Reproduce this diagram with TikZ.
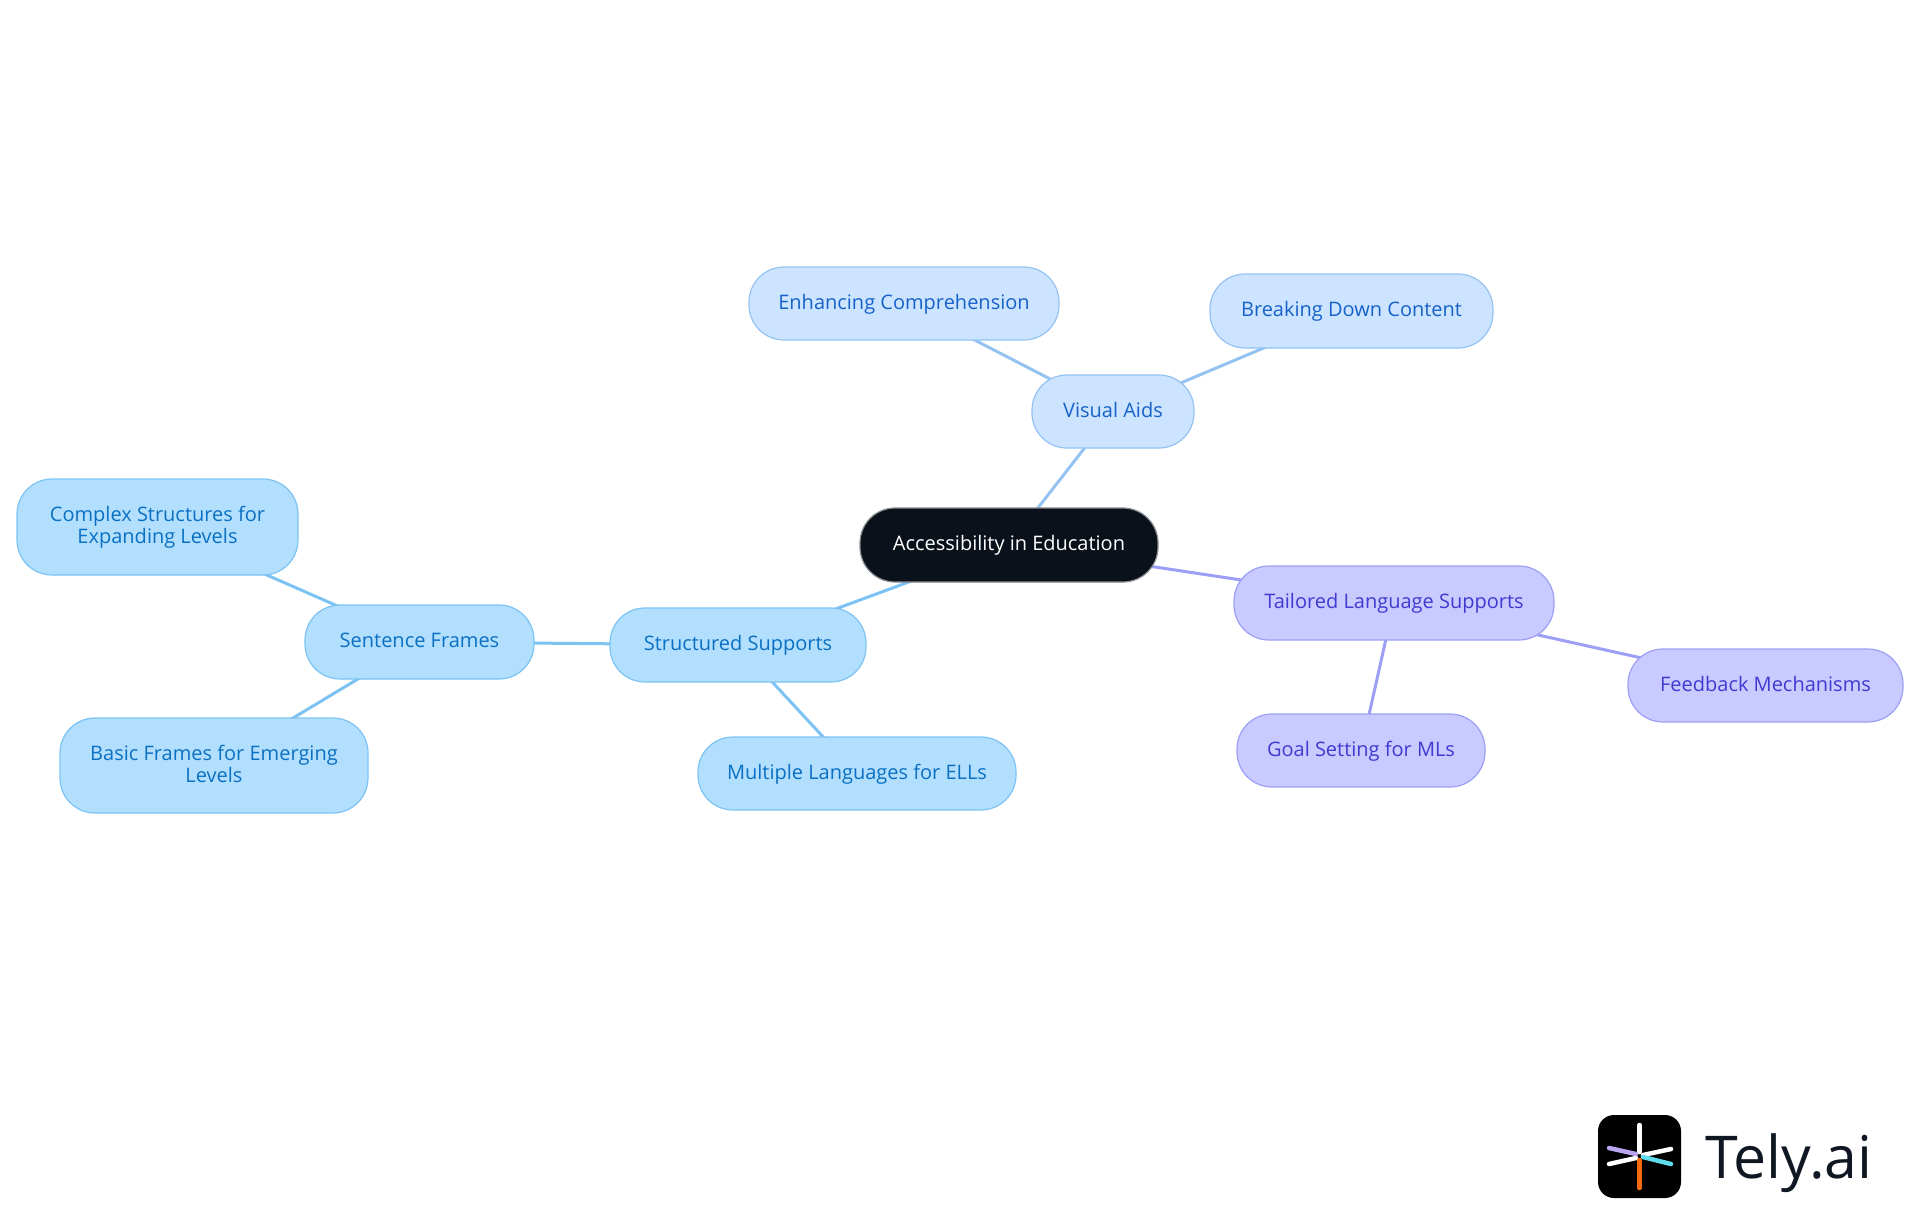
\documentclass[tikz,border=0pt]{standalone}
\usepackage{fontspec}
\setmainfont{Open Sans}
\usetikzlibrary{positioning,backgrounds}
\definecolor{rootfill}{HTML}{0B111A}
\definecolor{rootline}{HTML}{8A8D91}
\definecolor{skyfill}{HTML}{B3DFFF}
\definecolor{skyline}{HTML}{7CC3F3}
\definecolor{skytext}{HTML}{0A70C2}
\definecolor{palefill}{HTML}{CCE4FF}
\definecolor{paleline}{HTML}{94C3F2}
\definecolor{paletext}{HTML}{1762C8}
\definecolor{violetfill}{HTML}{C9CAFF}
\definecolor{violetline}{HTML}{9C9FF5}
\definecolor{violettext}{HTML}{3F3BD0}
\definecolor{brandink}{HTML}{0F1722}
\definecolor{brandorange}{HTML}{F26A0F}
\definecolor{brandlilac}{HTML}{B9A5F0}
\definecolor{brandcyan}{HTML}{5FDDEE}
\begin{document}
\begin{tikzpicture}[
    x=1pt, y=-1pt,
    box/.style={rectangle, draw, rounded corners=35pt, align=center, line width=1.2pt, outer sep=0pt, inner sep=0pt, text height=15.5pt, text depth=4.5pt, font=\fontsize{20}{22}\selectfont},
    twoline/.style={text height=37pt, text depth=3.5pt},
    rootbox/.style={box, fill=rootfill, draw=rootline, text=white},
    skybox/.style={box, fill=skyfill, draw=skyline, text=skytext},
    palebox/.style={box, fill=palefill, draw=paleline, text=paletext},
    violetbox/.style={box, fill=violetfill, draw=violetline, text=violettext},
    link/.style={line width=3pt},
    spoke/.style={line width=4.5pt, line cap=round}
]
\useasboundingbox (0,0) rectangle (1920,1215);
\node[rootbox, minimum width=298pt, minimum height=74pt] (root) at (1009,545) {Accessibility in Education};
% upper branch
\node[palebox, minimum width=162pt, minimum height=73pt, above=60pt of root, xshift=104pt] (visual) {Visual Aids};
\node[palebox, minimum width=310pt, minimum height=73pt, above=35pt of visual, xshift=-209pt] (enhance) {Enhancing Comprehension};
\node[palebox, minimum width=283pt, minimum height=74pt, above=27pt of visual, xshift=238.5pt] (breakdown) {Breaking Down Content};
% right branch
\node[violetbox, minimum width=320pt, minimum height=74pt, right=76pt of root, yshift=-58pt] (tailored) {Tailored Language Supports};
\node[violetbox, minimum width=275pt, minimum height=73pt, right=74pt of tailored, yshift=-82.5pt] (feedback) {Feedback Mechanisms};
\node[violetbox, minimum width=248pt, minimum height=73pt, below=74pt of tailored, xshift=-33pt] (goal) {Goal Setting for MLs};
% left branch
\node[skybox, minimum width=256pt, minimum height=74pt, below=26pt of root, xshift=-271pt] (structured) {Structured Supports};
\node[skybox, minimum width=318pt, minimum height=73pt, below=55pt of structured, xshift=119pt] (multi) {Multiple Languages for ELLs};
\node[skybox, minimum width=229pt, minimum height=74pt, left=76pt of structured, yshift=3pt] (sentence) {Sentence Frames};
\node[skybox, twoline, minimum width=281pt, minimum height=96pt, above=30pt of sentence, xshift=-262pt] (complex) {Complex Structures for\\Expanding Levels};
\node[skybox, twoline, minimum width=308pt, minimum height=95pt, below=39pt of sentence, xshift=-205.5pt] (basic) {Basic Frames for Emerging\\Levels};
\begin{scope}[on background layer]
\draw[link, paleline] (root.center) -- (visual.center);
\draw[link, paleline] (visual.center) -- (enhance.center);
\draw[link, paleline] (visual.center) -- (breakdown.center);
\draw[link, violetline] (root.center) -- (tailored.center);
\draw[link, violetline] (tailored.center) -- (feedback.center);
\draw[link, violetline] (tailored.center) -- (goal.center);
\draw[link, skyline] (root.center) -- (structured.center);
\draw[link, skyline] (structured.center) -- (multi.center);
\draw[link, skyline] (structured.center) -- (sentence.center);
\draw[link, skyline] (sentence.center) -- (complex.center);
\draw[link, skyline] (sentence.center) -- (basic.center);
\end{scope}
% logo
\fill[black, rounded corners=16pt] (1598,1115) rectangle (1681,1198);
\draw[spoke, white] (1639.5,1152) -- (1639.5,1125);
\draw[spoke, white] (1643,1155) -- (1671,1149);
\draw[spoke, white] (1636,1158) -- (1609,1164);
\draw[spoke, brandorange] (1639.5,1160) -- (1639.5,1188);
\draw[spoke, brandlilac] (1636,1154) -- (1609,1148);
\draw[spoke, brandcyan] (1643,1157) -- (1671,1164);
\node[anchor=base west, inner sep=0pt, text=brandink, font=\fontsize{59}{60}\selectfont] (brand) at (1705,1178) {Tely.ai};
\end{tikzpicture}
\end{document}
